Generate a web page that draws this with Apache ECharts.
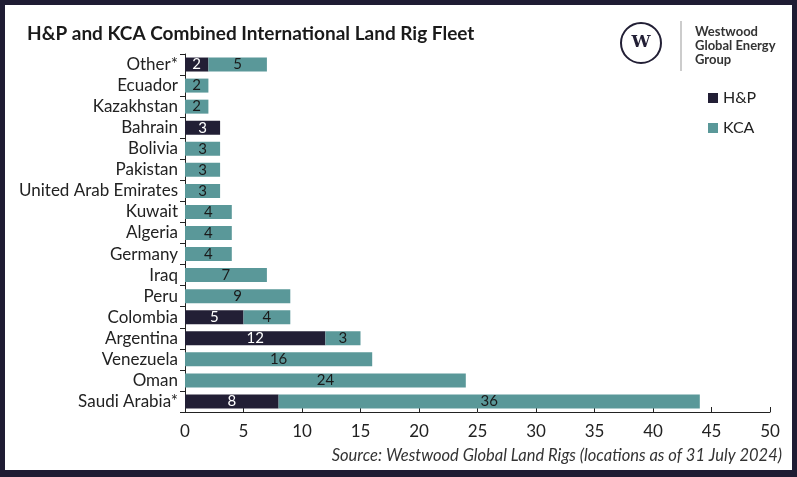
<!DOCTYPE html>
<html>
<head>
<meta charset="utf-8">
<script src="https://cdn.jsdelivr.net/npm/echarts@6/dist/echarts.min.js"></script>
<style>
  body { margin: 0; background: #1f1c33; }
  #wrap { width: 797px; height: 477px; position: relative; background: #1f1c33; }
  #chart { position: absolute; left: 5px; top: 5px; width: 787px; height: 465px; background: #fff; }
</style>
</head>
<body>
<div id="wrap"><div id="chart"></div></div>
<script>
// bottom to top, same order as the picture reads upwards
const countries = ['Saudi Arabia*', 'Oman', 'Venezuela', 'Argentina', 'Colombia', 'Peru', 'Iraq',
  'Germany', 'Algeria', 'Kuwait', 'United Arab Emirates', 'Pakistan', 'Bolivia', 'Bahrain',
  'Kazakhstan', 'Ecuador', 'Other*'];
const hpRigs = [8, 0, 0, 12, 5, 0, 0, 0, 0, 0, 0, 0, 0, 3, 0, 0, 2];
const kcaRigs = [36, 24, 16, 3, 4, 9, 7, 4, 4, 4, 3, 3, 3, 0, 2, 2, 5];
const xTicks = [0, 50, 5];

const chart = echarts.init(document.getElementById('chart'));

const labelFmt = (p) => (p.value ? p.value : '');

chart.setOption({
  animation: false,
  textStyle: { fontFamily: 'Lato' },
  title: {
    text: 'H&P and KCA Combined International Land Rig Fleet',
    left: 17,
    top: 14,
    textStyle: { fontFamily: 'Lato', fontWeight: 'bold', fontSize: 19, color: '#1a1a1a' },
  },
  legend: {
    orient: 'vertical',
    left: 698,
    top: 80,
    itemWidth: 10,
    itemHeight: 10,
    itemGap: 14,
    icon: 'rect',
    textStyle: { fontFamily: 'Lato', fontSize: 16, color: '#222' },
    data: ['H&P', 'KCA'],
  },
  grid: {
    left: 180,
    right: 22,
    top: 49,
    height: 358,
    containLabel: false,
  },
  xAxis: {
    type: 'value',
    min: xTicks[0],
    max: xTicks[1],
    interval: xTicks[2],
    splitLine: { show: false },
    axisLine: { show: true, lineStyle: { color: '#222', width: 1 } },
    axisTick: { show: true, inside: true, length: 5, lineStyle: { color: '#222' } },
    axisLabel: { fontFamily: 'Lato', fontSize: 17, color: '#222', margin: 11 },
  },
  yAxis: {
    type: 'category',
    data: countries,
    axisLine: { show: true, lineStyle: { color: '#222', width: 1 } },
    axisTick: { show: true, length: 5, interval: 0, lineStyle: { color: '#222' } },
    axisLabel: { interval: 0, fontFamily: 'Lato', fontSize: 17, color: '#222', margin: 7 },
  },
  series: [
    {
      name: 'H&P',
      type: 'bar',
      stack: 'rigs',
      barWidth: 14,
      data: hpRigs,
      itemStyle: { color: '#221f35' },
      label: { show: true, position: 'inside', color: '#fff', fontSize: 15, fontFamily: 'Lato', formatter: labelFmt },
    },
    {
      name: 'KCA',
      type: 'bar',
      stack: 'rigs',
      barWidth: 14,
      data: kcaRigs,
      itemStyle: { color: '#5a9899' },
      label: { show: true, position: 'inside', color: '#1a1a1a', fontSize: 15, fontFamily: 'Lato', formatter: labelFmt },
    },
  ],
  graphic: [
    // logo
    { type: 'circle', shape: { cx: 636, cy: 38, r: 20 }, style: { fill: 'none', stroke: '#221f35', lineWidth: 2 } },
    { type: 'text', x: 636, y: 38, style: { text: 'W', fill: '#221f35', font: 'bold 17px "DejaVu Serif"', align: 'center', verticalAlign: 'middle' } },
    { type: 'line', shape: { x1: 676, y1: 16, x2: 676, y2: 66 }, style: { stroke: '#999', lineWidth: 1 } },
    {
      type: 'text', x: 690, y: 20,
      style: { text: 'Westwood\nGlobal Energy\nGroup', fill: '#333', font: 'bold 13px Lato', lineHeight: 14 },
    },
    // source
    {
      type: 'text', right: 10, top: 442,
      style: { text: 'Source: Westwood Global Land Rigs (locations as of 31 July 2024)', fill: '#333', font: 'italic 16.5px Lato' },
    },
  ],
});
</script>
</body>
</html>
